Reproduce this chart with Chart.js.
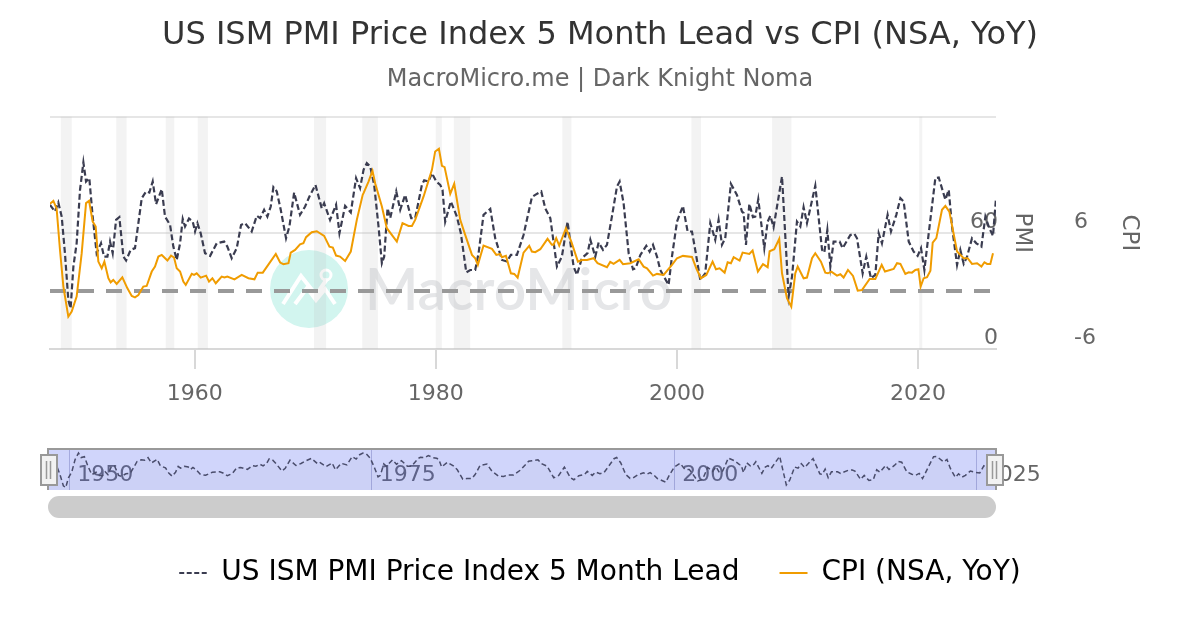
<!DOCTYPE html>
<html>
<head>
<meta charset="utf-8">
<title>US ISM PMI Price Index vs CPI</title>
<script src="https://cdn.jsdelivr.net/npm/chart.js@4/dist/chart.umd.min.js"></script>
<style>
    html, body { margin: 0; padding: 0; background: #fff; }
    #wrap { position: relative; width: 1200px; height: 630px; overflow: hidden; }
    canvas { position: absolute; left: 0; display: block; }
    #main-chart { top: 0; }
    #nav-chart { top: 440px; }
</style>
</head>
<body>
<div id="wrap">
    <canvas id="main-chart" width="1200" height="630"></canvas>
    <canvas id="nav-chart" width="1200" height="90"></canvas>
</div>
<script>
const pmiYears = [1948.00, 1948.41, 1948.69, 1948.97, 1949.24, 1949.52, 1949.71, 1949.94, 1950.21, 1950.49, 1950.77, 1950.99, 1951.26, 1951.54, 1951.87, 1952.23, 1952.48, 1952.76, 1952.98, 1953.20, 1953.48, 1953.75, 1954.09, 1954.31, 1954.69, 1955.05, 1955.33, 1955.61, 1955.97, 1956.24, 1956.52, 1956.80, 1957.27, 1957.54, 1957.96, 1958.23, 1958.51, 1958.79, 1959.01, 1959.20, 1959.53, 1959.84, 1960.03, 1960.23, 1960.50, 1960.86, 1961.28, 1961.83, 1962.44, 1962.71, 1963.07, 1963.49, 1963.85, 1964.18, 1964.73, 1965.15, 1965.43, 1965.76, 1966.03, 1966.31, 1966.53, 1966.81, 1967.14, 1967.58, 1967.86, 1968.25, 1968.74, 1969.16, 1969.52, 1970.02, 1970.54, 1970.74, 1971.23, 1971.73, 1972.01, 1972.48, 1972.95, 1973.39, 1973.72, 1974.01, 1974.28, 1974.56, 1974.89, 1975.25, 1975.53, 1975.72, 1976.00, 1976.22, 1976.72, 1977.05, 1977.46, 1977.96, 1978.29, 1978.85, 1979.04, 1979.40, 1979.68, 1980.04, 1980.37, 1980.56, 1980.78, 1981.25, 1981.75, 1982.08, 1982.53, 1982.86, 1983.27, 1983.55, 1983.96, 1984.52, 1984.93, 1985.49, 1985.90, 1986.23, 1986.73, 1987.28, 1987.97, 1988.25, 1988.75, 1989.08, 1989.50, 1990.05, 1990.46, 1990.93, 1991.43, 1991.71, 1992.12, 1992.59, 1992.82, 1993.23, 1993.51, 1993.87, 1994.20, 1994.61, 1995.03, 1995.25, 1995.58, 1996.00, 1996.36, 1996.58, 1996.97, 1997.46, 1997.74, 1998.02, 1998.35, 1998.62, 1999.31, 1999.59, 2000.01, 2000.50, 2000.89, 2001.25, 2001.52, 2001.94, 2002.35, 2002.77, 2003.18, 2003.46, 2003.74, 2004.01, 2004.48, 2004.98, 2005.40, 2005.54, 2005.73, 2006.01, 2006.31, 2006.50, 2006.75, 2007.25, 2007.53, 2007.75, 2008.02, 2008.72, 2009.27, 2009.55, 2009.96, 2010.24, 2010.51, 2010.79, 2011.48, 2012.04, 2012.23, 2012.48, 2012.73, 2013.00, 2013.50, 2013.75, 2014.39, 2014.72, 2014.94, 2015.41, 2015.71, 2016.10, 2016.46, 2016.74, 2017.01, 2017.48, 2017.76, 2018.20, 2018.54, 2018.81, 2019.23, 2019.64, 2019.97, 2020.25, 2020.53, 2020.89, 2021.44, 2021.72, 2022.27, 2022.55, 2022.82, 2023.24, 2023.51, 2023.79, 2024.07, 2024.48, 2024.84, 2025.26, 2025.59, 2025.86, 2026.22, 2026.47];
const pmiValues = [74.5, 71.0, 75.7, 68.4, 49.5, 25.3, 21.0, 42.6, 54.6, 82.2, 96.4, 86.5, 88.3, 68.4, 49.5, 54.6, 47.7, 47.7, 55.5, 49.5, 66.7, 68.1, 47.7, 45.7, 51.2, 52.1, 65.0, 77.9, 81.4, 80.8, 86.5, 74.8, 82.6, 68.4, 64.1, 52.9, 46.0, 54.6, 67.2, 63.3, 67.4, 65.8, 60.7, 65.0, 59.8, 49.5, 48.1, 54.6, 55.5, 52.9, 46.9, 52.1, 64.1, 65.0, 60.7, 68.8, 67.6, 71.9, 68.4, 73.6, 83.6, 81.4, 71.9, 57.2, 63.3, 80.8, 69.3, 73.6, 78.8, 84.8, 72.7, 75.3, 66.7, 74.5, 59.8, 73.9, 70.5, 88.3, 83.1, 92.6, 96.0, 94.3, 84.8, 63.3, 44.3, 47.7, 72.7, 67.6, 81.4, 71.9, 79.6, 67.6, 67.6, 84.8, 87.1, 86.5, 90.8, 86.5, 84.8, 82.2, 65.8, 76.2, 68.4, 59.8, 39.6, 40.8, 40.8, 49.5, 69.3, 72.4, 57.2, 46.0, 45.2, 48.6, 48.6, 58.9, 78.4, 79.6, 81.4, 72.7, 67.6, 42.6, 47.7, 65.8, 42.6, 38.3, 46.9, 49.5, 56.4, 47.7, 55.0, 51.2, 53.8, 68.4, 83.9, 86.5, 75.3, 49.5, 41.2, 41.7, 48.6, 53.3, 50.3, 53.8, 47.7, 40.8, 33.1, 47.7, 65.8, 73.9, 60.7, 60.7, 51.2, 35.7, 39.1, 65.0, 56.4, 66.7, 53.8, 57.2, 85.3, 79.6, 71.0, 70.2, 53.8, 75.0, 68.1, 68.4, 77.4, 52.1, 65.8, 68.8, 62.9, 89.1, 27.1, 37.4, 65.8, 63.3, 73.3, 65.0, 84.3, 51.2, 49.8, 61.5, 42.6, 55.5, 55.5, 52.1, 58.9, 59.5, 57.2, 39.1, 47.7, 36.5, 38.3, 59.8, 54.6, 69.3, 60.7, 69.3, 77.9, 76.2, 55.5, 50.3, 48.1, 52.1, 40.8, 59.8, 88.3, 88.6, 77.1, 82.2, 63.3, 43.4, 51.2, 44.0, 47.7, 57.2, 54.6, 52.9, 68.4, 63.3, 58.4, 77.9];

const cpiYears = [1948.00, 1948.28, 1948.55, 1948.83, 1949.11, 1949.52, 1949.80, 1950.21, 1950.63, 1950.99, 1951.24, 1951.54, 1951.79, 1952.01, 1952.29, 1952.51, 1952.84, 1953.03, 1953.25, 1953.53, 1954.00, 1954.42, 1954.78, 1955.05, 1955.33, 1955.74, 1956.02, 1956.44, 1956.71, 1956.99, 1957.27, 1957.74, 1958.04, 1958.29, 1958.51, 1958.79, 1959.06, 1959.26, 1959.76, 1959.95, 1960.17, 1960.50, 1960.95, 1961.19, 1961.47, 1961.75, 1962.24, 1962.47, 1962.71, 1963.30, 1963.90, 1964.46, 1964.96, 1965.23, 1965.65, 1966.73, 1967.09, 1967.36, 1967.78, 1967.97, 1968.33, 1968.74, 1969.02, 1969.24, 1969.71, 1970.13, 1970.74, 1971.18, 1971.46, 1971.73, 1972.06, 1972.48, 1972.95, 1973.45, 1973.94, 1974.01, 1974.42, 1974.75, 1974.97, 1975.53, 1975.94, 1976.77, 1977.24, 1977.74, 1978.02, 1978.29, 1978.99, 1979.68, 1979.95, 1980.26, 1980.51, 1980.73, 1981.20, 1981.53, 1982.03, 1982.44, 1983.00, 1983.27, 1983.49, 1983.96, 1984.66, 1985.02, 1985.35, 1985.49, 1985.82, 1986.23, 1986.51, 1986.79, 1987.28, 1987.75, 1987.97, 1988.25, 1988.67, 1989.27, 1989.63, 1989.77, 1989.99, 1990.24, 1990.80, 1991.24, 1991.79, 1992.12, 1992.54, 1993.09, 1993.42, 1994.20, 1994.47, 1994.75, 1995.25, 1995.53, 1996.13, 1996.83, 1997.24, 1997.52, 1998.02, 1998.35, 1998.90, 1999.59, 2000.01, 2000.50, 2001.25, 2001.61, 2001.99, 2002.44, 2002.96, 2003.24, 2003.54, 2003.96, 2004.21, 2004.48, 2004.71, 2005.20, 2005.45, 2006.01, 2006.28, 2006.72, 2007.14, 2007.53, 2007.69, 2008.08, 2008.49, 2008.72, 2009.13, 2009.49, 2009.82, 2010.02, 2010.51, 2010.79, 2011.21, 2011.48, 2011.95, 2012.31, 2012.53, 2012.81, 2013.28, 2013.56, 2013.83, 2014.19, 2014.61, 2015.00, 2015.35, 2015.99, 2016.46, 2016.99, 2017.26, 2017.98, 2018.26, 2018.54, 2018.95, 2019.23, 2019.50, 2019.78, 2020.03, 2020.22, 2020.47, 2020.75, 2021.03, 2021.22, 2021.52, 2021.99, 2022.27, 2022.60, 2023.24, 2023.79, 2024.12, 2024.48, 2024.90, 2025.26, 2025.51, 2025.73, 2026.00, 2026.22];
const cpiValues = [9.0, 9.3, 8.5, 4.2, 0.45, -2.66, -2.14, -0.59, 3.9, 9.07, 9.31, 7.17, 6.65, 3.03, 2.34, 3.03, 1.31, 0.89, 1.14, 0.72, 1.41, 0.27, -0.52, -0.66, -0.42, 0.45, 0.51, 2.0, 2.51, 3.55, 3.72, 3.14, 3.65, 3.45, 2.34, 2.0, 0.96, 0.62, 1.76, 1.65, 1.82, 1.38, 1.58, 0.96, 1.31, 0.79, 1.48, 1.38, 1.48, 1.2, 1.65, 1.31, 1.2, 1.89, 1.89, 3.82, 2.93, 2.76, 2.86, 3.96, 4.24, 4.82, 4.93, 5.55, 6.07, 6.17, 5.69, 4.58, 4.48, 3.65, 3.55, 3.1, 4.07, 7.34, 9.93, 10.1, 11.3, 12.41, 11.13, 8.72, 6.48, 5.1, 7.0, 6.72, 6.72, 7.34, 9.76, 12.51, 14.41, 14.69, 12.93, 12.79, 10.03, 11.07, 7.34, 5.79, 3.72, 3.38, 2.69, 4.69, 4.34, 3.72, 3.82, 3.48, 3.62, 1.82, 1.76, 1.38, 3.96, 4.65, 4.07, 4.0, 4.31, 5.38, 4.76, 4.76, 5.45, 4.69, 6.48, 5.1, 3.03, 3.2, 3.2, 3.38, 2.86, 2.45, 3.0, 2.79, 3.2, 2.76, 2.86, 3.27, 2.51, 2.34, 1.58, 1.76, 1.65, 2.69, 3.38, 3.62, 3.51, 2.34, 1.31, 1.65, 3.03, 2.24, 2.34, 1.89, 2.96, 2.86, 3.48, 3.14, 3.96, 3.82, 4.17, 2.0, 2.76, 2.45, 4.1, 4.31, 5.38, 1.82, -0.76, -1.62, 1.82, 2.51, 1.31, 1.38, 3.38, 3.89, 3.03, 1.89, 1.82, 2.0, 1.58, 1.72, 1.38, 2.17, 1.55, 0.03, 0.1, 1.24, 1.24, 2.69, 2.0, 2.27, 2.86, 2.79, 1.76, 1.93, 1.89, 2.17, 2.24, 0.45, 1.31, 1.41, 2.1, 5.0, 5.45, 8.38, 8.79, 8.2, 4.07, 3.38, 3.38, 2.79, 2.86, 2.51, 2.96, 2.79, 2.79, 3.89];

const recessionStarts = [1948.9, 1953.5, 1957.6, 1960.25, 1969.9, 1973.9, 1980.0, 1981.5, 1990.5, 2001.2, 2007.9, 2020.1];
const recessionEnds = [1949.8, 1954.35, 1958.3, 1961.1, 1970.9, 1975.2, 1980.5, 1982.85, 1991.25, 2002.0, 2009.5, 2020.35];

const xTicks = [1960, 1980, 2000, 2020];
const navTicks = [1950, 1975, 2000, 2025];
const pmiTicks = [0, 60, 120];
const cpiTicks = [-6, 6, 18];
const zeroLineYears = [1948, 2026.47];
const zeroLineValues = [0, 0];

const fontFamily = "'DejaVu Sans', sans-serif";
const axisGray = '#666666';

function toPoints(xs, ys) {
    return xs.map((x, i) => ({ x: x, y: ys[i] }));
}

function setTicks(values) {
    return function (scale) {
        scale.ticks = values.map(v => ({ value: v }));
    };
}

// logo and word mark behind the lines, grey recession bands over them
const backdropPlugin = {
    id: 'backdrop',
    beforeDatasetsDraw(chart) {
        const ctx = chart.ctx;
        const area = chart.chartArea;
        const x = chart.scales.x;

        ctx.save();
        ctx.fillStyle = '#d2f5ef';
        ctx.beginPath();
        ctx.arc(309, 289, 39, 0, Math.PI * 2);
        ctx.fill();

        ctx.strokeStyle = '#ffffff';
        ctx.lineWidth = 4;
        ctx.beginPath();
        ctx.moveTo(283, 304);
        ctx.lineTo(301, 276);
        ctx.lineTo(316, 295);
        ctx.lineTo(327, 279);
        ctx.moveTo(295, 304);
        ctx.lineTo(307, 288);
        ctx.lineTo(316, 300);
        ctx.lineTo(325, 289);
        ctx.lineTo(335, 304);
        ctx.stroke();
        ctx.lineWidth = 3;
        ctx.beginPath();
        ctx.arc(326, 275, 5, 0, Math.PI * 2);
        ctx.stroke();

        ctx.fillStyle = '#e5e6e8';
        ctx.font = "600 57px Lato, sans-serif";
        ctx.textBaseline = 'alphabetic';
        ctx.textAlign = 'left';
        ctx.fillText('MacroMicro', 365, 310);

        ctx.fillStyle = 'rgba(190, 190, 190, 0.18)';
        recessionStarts.forEach((start, i) => {
            const left = x.getPixelForValue(start);
            const right = x.getPixelForValue(recessionEnds[i]);
            ctx.fillRect(left, area.top, right - left, area.bottom - area.top);
        });
        ctx.restore();
    }
};

const mainChart = new Chart(document.getElementById('main-chart'), {
    type: 'line',
    data: {
        datasets: [
            {
                label: 'US ISM PMI Price Index 5 Month Lead',
                data: toPoints(pmiYears, pmiValues),
                yAxisID: 'pmi',
                borderColor: '#3a3c50',
                borderWidth: 2.2,
                borderDash: [6, 3],
                pointRadius: 0,
                tension: 0,
                order: 2
            },
            {
                label: 'CPI (NSA, YoY)',
                data: toPoints(cpiYears, cpiValues),
                yAxisID: 'cpi',
                borderColor: '#f09c00',
                borderWidth: 2,
                pointRadius: 0,
                tension: 0,
                order: 1
            },
            {
                label: 'zero',
                data: toPoints(zeroLineYears, zeroLineValues),
                yAxisID: 'cpi',
                borderColor: '#999999',
                borderWidth: 4,
                borderDash: [16, 12],
                pointRadius: 0,
                order: 3
            }
        ]
    },
    options: {
        responsive: false,
        animation: false,
        events: [],
        devicePixelRatio: 1,
        layout: { padding: { left: 50, right: 50, top: 0, bottom: 33 } },
        scales: {
            x: {
                type: 'linear',
                min: 1948,
                max: 2026.47,
                afterBuildTicks: setTicks(xTicks),
                afterFit(scale) { scale.height = 170; },
                border: { display: true, color: '#d8d8d8', width: 2 },
                grid: { drawOnChartArea: false, color: '#d8d8d8', lineWidth: 2, tickLength: 20 },
                ticks: {
                    autoSkip: false,
                    maxRotation: 0,
                    padding: 12,
                    color: axisGray,
                    font: { family: fontFamily, size: 22 },
                    callback: v => String(v)
                }
            },
            pmi: {
                type: 'linear',
                position: 'right',
                weight: 0,
                min: 0,
                max: 120,
                afterBuildTicks: setTicks(pmiTicks),
                afterFit(scale) { scale.width = 40; },
                border: { display: false },
                grid: { color: '#e6e6e6', lineWidth: 2, drawTicks: false },
                ticks: {
                    mirror: true,
                    align: 'end',
                    padding: 2,
                    color: axisGray,
                    font: { family: fontFamily, size: 22 },
                    callback: v => (v < 120 ? String(v) : '')
                },
                title: {
                    display: true,
                    text: 'PMI',
                    color: axisGray,
                    padding: 0,
                    font: { family: fontFamily, size: 23 }
                }
            },
            cpi: {
                type: 'linear',
                position: 'right',
                weight: 1,
                min: -6,
                max: 18,
                afterBuildTicks: setTicks(cpiTicks),
                afterFit(scale) { scale.width = 114; },
                border: { display: false },
                grid: { display: false, drawTicks: false },
                ticks: {
                    align: 'end',
                    padding: 38,
                    color: axisGray,
                    font: { family: fontFamily, size: 22 },
                    callback: v => (v < 18 ? String(v) : '')
                },
                title: {
                    display: true,
                    text: 'CPI',
                    color: axisGray,
                    padding: { top: 7, bottom: 0 },
                    font: { family: fontFamily, size: 23 }
                }
            }
        },
        plugins: {
            tooltip: { enabled: false },
            title: {
                display: true,
                text: 'US ISM PMI Price Index 5 Month Lead vs CPI (NSA, YoY)',
                color: '#333333',
                font: { family: fontFamily, size: 32, weight: 'normal', lineHeight: 1.2 },
                padding: { top: 16, bottom: 11 }
            },
            subtitle: {
                display: true,
                text: 'MacroMicro.me | Dark Knight Noma',
                color: axisGray,
                font: { family: fontFamily, size: 24, weight: 'normal', lineHeight: 1.2 },
                padding: { top: 0, bottom: 22.5 }
            },
            legend: {
                display: true,
                position: 'bottom',
                labels: {
                    usePointStyle: true,
                    pointStyle: 'line',
                    pointStyleWidth: 28,
                    padding: 40,
                    color: '#000000',
                    font: { family: fontFamily, size: 28 },
                    filter: item => item.datasetIndex !== 2,
                    sort: (a, b) => a.datasetIndex - b.datasetIndex,
                    generateLabels(chart) {
                        const items = Chart.defaults.plugins.legend.labels.generateLabels(chart);
                        items.forEach(item => {
                            item.lineWidth = 2;
                            item.lineDash = item.datasetIndex === 0 ? [5, 2.5] : [];
                        });
                        return items;
                    }
                }
            }
        }
    },
    plugins: [backdropPlugin]
});

// range selector tint and its two grab handles, then the scrollbar under it
const selectorPlugin = {
    id: 'selector',
    beforeDatasetsDraw(chart) {
        const ctx = chart.ctx;
        const area = chart.chartArea;
        ctx.save();
        ctx.fillStyle = 'rgba(80, 100, 240, 0.27)';
        ctx.fillRect(area.left, area.top, area.right - area.left, area.bottom - area.top);
        ctx.restore();
    },
    afterDraw(chart) {
        const ctx = chart.ctx;
        const area = chart.chartArea;
        ctx.save();

        ctx.strokeStyle = '#999999';
        ctx.lineWidth = 2;
        ctx.beginPath();
        ctx.moveTo(area.left, area.bottom);
        ctx.lineTo(area.left, area.top);
        ctx.lineTo(area.right, area.top);
        ctx.lineTo(area.right, area.bottom);
        ctx.stroke();

        [area.left + 1, area.right - 1].forEach(center => {
            ctx.fillStyle = '#f2f2f2';
            ctx.strokeStyle = '#999999';
            ctx.lineWidth = 2;
            ctx.fillRect(center - 8, 15, 16, 30);
            ctx.strokeRect(center - 8, 15, 16, 30);
            ctx.lineWidth = 1.5;
            ctx.beginPath();
            ctx.moveTo(center - 2.5, 21);
            ctx.lineTo(center - 2.5, 39);
            ctx.moveTo(center + 1.5, 21);
            ctx.lineTo(center + 1.5, 39);
            ctx.stroke();
        });

        ctx.fillStyle = '#cccccc';
        ctx.beginPath();
        ctx.roundRect(area.left, 56, area.right - area.left, 22, 11);
        ctx.fill();
        ctx.restore();
    }
};

const navChart = new Chart(document.getElementById('nav-chart'), {
    type: 'line',
    data: {
        datasets: [{
            label: 'navigator',
            data: toPoints(pmiYears, pmiValues),
            borderColor: '#4a4d6c',
            borderWidth: 1.5,
            borderDash: [5, 3],
            backgroundColor: 'rgba(60, 60, 110, 0.03)',
            fill: 'start',
            pointRadius: 0,
            tension: 0
        }]
    },
    options: {
        responsive: false,
        animation: false,
        events: [],
        devicePixelRatio: 1,
        layout: { padding: { left: 48, right: 204, top: 9, bottom: 40 } },
        scales: {
            x: {
                type: 'linear',
                min: 1948.25,
                max: 2026.6,
                afterBuildTicks: setTicks(navTicks),
                afterFit(scale) { scale.height = 0; },
                border: { display: false },
                grid: { color: '#c4c4d8', lineWidth: 1, drawTicks: false },
                ticks: {
                    autoSkip: false,
                    maxRotation: 0,
                    mirror: true,
                    align: 'start',
                    labelOffset: 8,
                    padding: 2,
                    color: axisGray,
                    font: { family: fontFamily, size: 22 },
                    callback: v => String(v)
                }
            },
            y: {
                display: false,
                min: 16,
                max: 105
            }
        },
        plugins: {
            tooltip: { enabled: false },
            title: { display: false },
            legend: { display: false }
        }
    },
    plugins: [selectorPlugin]
});
</script>
</body>
</html>
